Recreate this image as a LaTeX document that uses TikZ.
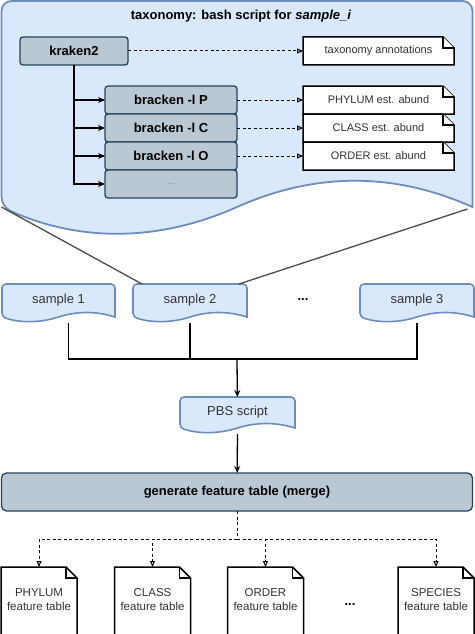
\documentclass[tikz,border=0pt]{standalone}
\usepackage{fontspec}
\setmainfont{Liberation Sans}
\usetikzlibrary{arrows.meta,backgrounds,calc,positioning}

\definecolor{bluefill}{HTML}{DAE8FC}
\definecolor{blueline}{HTML}{6C8EBF}
\definecolor{grayfill}{HTML}{BAC8D3}
\definecolor{grayline}{HTML}{23445D}

% document shape with wavy bottom: node, bulge, corner radius
\newcommand{\docoutline}[3]{(#1.south east) {[rounded corners=#3] -- (#1.north east) -- (#1.north west) -- (#1.south west)}
  .. controls ($(#1.south west)!0.1667!(#1.south east)+(0,#2)$) and ($(#1.south west)!0.3333!(#1.south east)+(0,#2)$) .. (#1.south)
  .. controls ($(#1.south west)!0.6667!(#1.south east)-(0,#2)$) and ($(#1.south west)!0.8333!(#1.south east)-(0,#2)$) .. (#1.south east) -- cycle}
% note with folded corner: node, fold, extra depth
\newcommand{\noteoutline}[3]{(#1.north west) -- ($(#1.north east)+(-#2,0)$) -- ($(#1.north east)+(0,#2)$) -- ($(#1.south east)+(0,#3)$) -- ($(#1.south west)+(0,#3)$) -- cycle}
\newcommand{\notefold}[2]{($(#1.north east)+(-#2,0)$) -- ($(#1.north east)+(-#2,#2)$) -- ($(#1.north east)+(0,#2)$)}

\begin{document}
\begin{tikzpicture}[x=1pt,y=-1pt,line width=1.3pt,font=\fontsize{13}{15}\selectfont]
\tikzstyle{box}=[inner sep=0pt,outer sep=0pt]
\tikzstyle{tool}=[box,draw=grayline,fill=grayfill,rounded corners=3pt,minimum height=28pt,font=\bfseries\fontsize{13}{15}\selectfont]
\tikzstyle{note}=[box,minimum width=151pt,minimum height=28pt,font=\fontsize{11}{13}\selectfont,text=black!80]
\tikzstyle{doc}=[box,minimum width=114pt,minimum height=33pt,text=black!80]
\tikzstyle{table}=[box,minimum width=76pt,minimum height=66pt,align=center,font=\fontsize{11.5}{14}\selectfont,text=black!80]
\tikzstyle{paper}=[draw=black,fill=white,line width=1.5pt,line join=miter]
\tikzstyle{flow}=[-{Stealth[length=7pt,width=6pt]}]
\tikzstyle{result}=[dash pattern=on 3pt off 2.5pt,line width=1pt,-{Triangle[open,length=6pt,width=5pt]}]

\clip (0,0) rectangle (474,634);

% bash script for one sample
\node[box,minimum width=471pt,minimum height=206pt] (script) at (237,104) {};
\node[font=\bfseries\fontsize{13}{15}\selectfont] (title) at (241,16) {taxonomy: bash script for \textit{sample\_i}};

\node[tool,minimum width=108pt] (kraken) at (74,51) {kraken2};
\node[tool,minimum width=132pt] (brP) at (171,100) {bracken -l P};
\node[tool,minimum width=132pt,below=0pt of brP] (brC) {bracken -l C};
\node[tool,minimum width=132pt,below=0pt of brC] (brO) {bracken -l O};
\node[tool,minimum width=132pt,below=0pt of brO,font=\fontsize{10}{12}\selectfont,text=black!50] (brX) {...};

\node[note] (annot) at (378.5,51) {taxonomy annotations};
\node[note] (abP) at (378.5,100) {PHYLUM est. abund};
\node[note,below=0pt of abP] (abC) {CLASS est. abund};
\node[note,below=0pt of abC] (abO) {ORDER est. abund};

\draw[result] (kraken) -- (annot);
\foreach \b in {brP,brC,brO,brX}
  \draw[flow] (kraken.south) |- (\b);
\draw[result] (brP) -- (abP);
\draw[result] (brC) -- (abC);
\draw[result] (brO) -- (abO);

% samples
\node[doc,minimum width=113pt] (s1) at (58.5,300.5) {sample 1};
\node[doc] (s2) at (190,300.5) {sample 2};
\node (sdots) at (303,300) {\textbf{...}};
\node[doc] (s3) at (417,300.5) {sample 3};

\draw[black!70] (script.south west) -- ($(s2.north west)+(9,0)$);
\draw[black!70] ($(script.south east)+(-5,2)$) -- ($(s2.north east)+(-8,0)$);

\node[doc,minimum width=115pt,minimum height=31pt] (pbs) at (237.5,412.5) {PBS script};
\coordinate (join) at (237,359);
\draw ($(s1.south)+(10,6)$) |- (join) -| ($(s3.south)+(0,6)$);
\draw ($(s2.south)+(0,6)$) -- (s2.south |- join);
\draw[flow] (join) -- (pbs);

\node[tool,minimum width=471pt,minimum height=38pt,rounded corners=5pt] (merge) at (237,492) {generate feature table (merge)};
\draw[flow] ($(pbs.south)+(0,6)$) -- (merge);

% feature tables
\node[table] (ftP) at (39,600) {PHYLUM\\feature table};
\node[table] (ftC) at (152.5,600) {CLASS\\feature table};
\node[table] (ftO) at (265.5,600) {ORDER\\feature table};
\node (fdots) at (350,605) {\textbf{...}};
\node[table] (ftS) at (436,600) {SPECIES\\feature table};

\coordinate (split) at (237,539);
\draw[dash pattern=on 3pt off 2.5pt,line width=1pt] (merge) -- (split);
\foreach \t in {ftP,ftC,ftO,ftS}
  \draw[result] (split) -| (\t);

\begin{scope}[on background layer]
\draw[draw=blueline,fill=bluefill,line width=1.8pt] \docoutline{script}{35}{10};
\foreach \n in {annot,abP,abC,abO} {
  \draw[paper] \noteoutline{\n}{11}{0};
  \draw[paper] \notefold{\n}{11};
}
\foreach \n in {s1,s2,s3,pbs}
  \draw[draw=blueline,fill=bluefill,line width=1.6pt] \docoutline{\n}{6}{4};
\foreach \n in {ftP,ftC,ftO,ftS} {
  \draw[paper] \noteoutline{\n}{11}{30};
  \draw[paper,fill=none] \notefold{\n}{11};
}
\end{scope}
\end{tikzpicture}
\end{document}
